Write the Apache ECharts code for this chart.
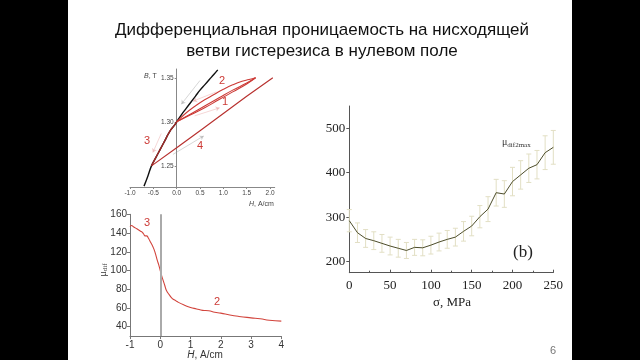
<!DOCTYPE html>
<html>
<head>
<meta charset="utf-8">
<script src="https://cdn.jsdelivr.net/npm/echarts@6/dist/echarts.min.js"></script>
<style>
html,body{margin:0;padding:0;background:#000;}
#c{width:640px;height:360px;}
</style>
</head>
<body>
<div id="c"></div>
<script>
// ---------- Chart (a): B(H) hysteresis branches ----------
const bhTickB = [1.25, 1.30, 1.35];
const bhTickH = [-1.0, -0.5, 0.0, 0.5, 1.0, 1.5, 2.0];
const blackH = [-0.70, -0.62, -0.54, -0.45, -0.35, -0.25, -0.15, -0.05, 0.0, 0.1, 0.2, 0.3, 0.4, 0.5, 0.6, 0.7, 0.8, 0.88];
const blackB = [1.227, 1.238, 1.250, 1.259, 1.269, 1.279, 1.289, 1.296, 1.300, 1.308, 1.315, 1.322, 1.329, 1.336, 1.342, 1.348, 1.354, 1.359];
const branch3H = [0.0, -0.05, -0.15, -0.25, -0.35, -0.45, -0.54];
const branch3B = [1.300, 1.296, 1.289, 1.279, 1.269, 1.259, 1.250];
const loopUpperH = [0.0, 0.2, 0.4, 0.6, 0.8, 1.0, 1.2, 1.4, 1.55, 1.69];
const loopUpperB = [1.300, 1.310, 1.318, 1.325, 1.331, 1.337, 1.342, 1.346, 1.348, 1.350];
const loopMidH = [0.0, 0.3, 0.6, 0.9, 1.2, 1.5, 1.69];
const loopMidB = [1.300, 1.309, 1.318, 1.327, 1.336, 1.344, 1.350];
const loopLowH = [0.0, 0.3, 0.6, 0.9, 1.2, 1.5, 1.69];
const loopLowB = [1.300, 1.308, 1.316, 1.325, 1.334, 1.343, 1.350];
const branch4H = [-0.54, 0.0, 0.5, 1.0, 1.5, 2.06];
const branch4B = [1.250, 1.2705, 1.290, 1.3095, 1.329, 1.350];
// arrows: [H1, B1, H2, B2]
const arrowsGray = [[0.50, 1.347, 0.10, 1.320], [-0.08, 1.263, 0.58, 1.284]];
const arrowsPink = [[0.85, 1.334, 0.35, 1.3235], [0.385, 1.3068, 0.92, 1.3159], [-0.33, 1.2868, -0.51, 1.2652]];
const bhHMin = -1.0, bhHMax = 2.1;

// ---------- Chart (c): differential permeability vs H ----------
const muTickVals = [40, 60, 80, 100, 120, 140, 160];
const muH = [-1.0, -0.95, -0.9, -0.85, -0.8, -0.75, -0.7, -0.65, -0.6, -0.55, -0.5, -0.45, -0.4, -0.35, -0.3, -0.25, -0.2, -0.15, -0.1, -0.05, 0.0, 0.05, 0.1, 0.15, 0.2, 0.3, 0.4, 0.5, 0.6, 0.8, 1.0, 1.2, 1.4, 1.6, 1.8, 2.0, 2.3, 2.6, 3.0, 3.3, 3.6, 4.0];
const muVals = [147, 148, 147, 146, 145, 144, 143, 142, 141, 139, 137, 137, 135, 132, 129, 126, 122, 117, 111, 106, 100, 94, 89, 84, 79, 74, 70, 68, 66, 63, 60.5, 59, 57.5, 57, 55.5, 54.5, 52.5, 51, 49.5, 48.5, 47, 46];

// ---------- Chart (b): mu_dif2max vs sigma ----------
const sigma = [0, 10, 20, 30, 40, 50, 60, 70, 80, 90, 100, 110, 120, 130, 140, 150, 160, 170, 180, 190, 200, 210, 220, 230, 240, 250];
const muMax = [292, 265, 252, 247, 241, 235, 230, 225, 232, 231, 237, 244, 250, 255, 268, 280, 301, 318, 355, 352, 380, 395, 410, 418, 445, 457];
const muErr = [25, 22, 20, 20, 20, 20, 20, 18, 18, 18, 20, 20, 20, 20, 22, 22, 25, 28, 30, 30, 32, 32, 32, 32, 38, 38];
const sigTickVals = [200, 300, 400, 500];

const pair = (a, b) => a.map((v, i) => [v, b[i]]);
const RED = '#cc3a36';
const serif = '"Liberation Serif", "DejaVu Serif", serif';
const sans = '"Liberation Sans", Arial, sans-serif';

const chart = echarts.init(document.getElementById('c'));
const arrowData = (arr) => arr.map(a => ({coords: [[a[0], a[1]], [a[2], a[3]]]}));
const bhGridW = 144.7;
const bhYOffset = -(0 - bhHMin) / (bhHMax - bhHMin) * bhGridW;

const option = {
  backgroundColor: '#fff',
  animation: false,
  title: {
    text: 'Дифференциальная проницаемость на нисходящей\nветви гистерезиса в нулевом поле',
    left: 317, top: 15, textAlign: 'center',
    textStyle: {fontFamily: sans, fontSize: 17, fontWeight: 'normal', color: '#111', lineHeight: 21}
  },
  grid: [
    {left: 130, top: 69, width: bhGridW, height: 118},
    {left: 130, top: 214.3, width: 151.3, height: 121.8},
    {left: 349.3, top: 106, width: 204, height: 166.7}
  ],
  xAxis: [
    {gridIndex: 0, type: 'value', min: bhHMin, max: bhHMax, splitLine: {show: false},
     axisLine: {lineStyle: {color: '#888'}}, axisTick: {customValues: bhTickH, length: 2, lineStyle: {color: '#888'}},
     axisLabel: {customValues: bhTickH, formatter: v => v.toFixed(1), fontSize: 6.5, color: '#444', margin: 3, fontFamily: sans}},
    {gridIndex: 1, type: 'value', min: -1, max: 4, interval: 1, splitLine: {show: false},
     axisLine: {onZero: false, lineStyle: {color: '#777'}}, axisTick: {length: 3, lineStyle: {color: '#777'}},
     axisLabel: {fontSize: 10, color: '#333', margin: 4, fontFamily: sans}},
    {gridIndex: 2, type: 'value', min: 0, max: 250, interval: 50, splitLine: {show: false},
     axisLine: {onZero: false, lineStyle: {color: '#555'}}, axisTick: {inside: true, length: 3, lineStyle: {color: '#555'}},
     minorTick: {show: true, splitNumber: 2, length: 2, lineStyle: {color: '#555'}},
     axisLabel: {fontSize: 13, color: '#222', margin: 6, fontFamily: serif}}
  ],
  yAxis: [
    {gridIndex: 0, type: 'value', min: 1.226, max: 1.36, splitLine: {show: false}, offset: bhYOffset,
     axisLine: {onZero: false, lineStyle: {color: '#888'}}, axisTick: {customValues: bhTickB, length: 2, lineStyle: {color: '#888'}},
     axisLabel: {customValues: bhTickB, formatter: v => v.toFixed(2), fontSize: 6.5, color: '#444', margin: 3, fontFamily: sans}},
    {gridIndex: 1, type: 'value', min: 30, max: 160, splitLine: {show: false},
     axisLine: {onZero: false, lineStyle: {color: '#777'}}, axisTick: {customValues: muTickVals, length: 3, lineStyle: {color: '#777'}},
     axisLabel: {customValues: muTickVals, fontSize: 10, color: '#333', margin: 3, fontFamily: sans}},
    {gridIndex: 2, type: 'value', min: 175, max: 550, splitLine: {show: false},
     axisLine: {onZero: false, lineStyle: {color: '#555'}}, axisTick: {customValues: sigTickVals, length: 3, lineStyle: {color: '#555'}},
     axisLabel: {customValues: sigTickVals, fontSize: 13, color: '#222', margin: 4, fontFamily: serif}}
  ],
  series: [
    {type: 'line', xAxisIndex: 0, yAxisIndex: 0, data: pair(blackH, blackB), smooth: true, showSymbol: false, lineStyle: {color: '#111', width: 1.4}, z: 3},
    {type: 'line', xAxisIndex: 0, yAxisIndex: 0, data: pair(branch3H, branch3B), smooth: true, showSymbol: false, lineStyle: {color: '#a02a28', width: 1.4}, z: 4},
    {type: 'line', xAxisIndex: 0, yAxisIndex: 0, data: pair(loopUpperH, loopUpperB), smooth: true, showSymbol: false, lineStyle: {color: RED, width: 1.1}, z: 3},
    {type: 'line', xAxisIndex: 0, yAxisIndex: 0, data: pair(loopMidH, loopMidB), smooth: true, showSymbol: false, lineStyle: {color: RED, width: 1.1}, z: 3},
    {type: 'line', xAxisIndex: 0, yAxisIndex: 0, data: pair(loopLowH, loopLowB), smooth: true, showSymbol: false, lineStyle: {color: RED, width: 1.1}, z: 3},
    {type: 'line', xAxisIndex: 0, yAxisIndex: 0, data: pair(branch4H, branch4B), smooth: false, showSymbol: false, lineStyle: {color: '#b83230', width: 1.2}, z: 3},
    {type: 'lines', coordinateSystem: 'cartesian2d', xAxisIndex: 0, yAxisIndex: 0, data: arrowData(arrowsGray),
     symbol: ['none', 'arrow'], symbolSize: 4, lineStyle: {color: '#999', width: 0.8}, z: 2},
    {type: 'lines', coordinateSystem: 'cartesian2d', xAxisIndex: 0, yAxisIndex: 0, data: arrowData(arrowsPink),
     symbol: ['none', 'arrow'], symbolSize: 4, lineStyle: {color: '#e59a9a', width: 0.8}, z: 2},
    {type: 'line', xAxisIndex: 1, yAxisIndex: 1, data: pair(muH, muVals), smooth: true, showSymbol: false, lineStyle: {color: '#d2443c', width: 1.1}, z: 3,
     markLine: {silent: true, symbol: 'none', label: {show: false}, lineStyle: {color: '#aaa', width: 2, type: 'solid'}, data: [{xAxis: 0}]}},
    {type: 'custom', xAxisIndex: 2, yAxisIndex: 2, data: sigma.map((s, i) => [s, muMax[i], muErr[i]]), z: 1,
     encode: {x: 0, y: 1},
     renderItem: function (params, api) {
       const x = api.value(0), y = api.value(1), e = api.value(2);
       const t = api.coord([x, y + e]), b = api.coord([x, y - e]);
       const w = 2.5, st = {stroke: '#e2dfc4', lineWidth: 1};
       return {type: 'group', children: [
         {type: 'line', shape: {x1: t[0], y1: t[1], x2: b[0], y2: b[1]}, style: st},
         {type: 'line', shape: {x1: t[0] - w, y1: t[1], x2: t[0] + w, y2: t[1]}, style: st},
         {type: 'line', shape: {x1: b[0] - w, y1: b[1], x2: b[0] + w, y2: b[1]}, style: st}
       ]};
     }},
    {type: 'line', xAxisIndex: 2, yAxisIndex: 2, data: pair(sigma, muMax), showSymbol: false, lineStyle: {color: '#4d4d2a', width: 1}, z: 3}
  ],
  graphic: [
    {type: 'rect', shape: {x: 0, y: 0, width: 68, height: 360}, style: {fill: '#000'}, z: 100},
    {type: 'rect', shape: {x: 572, y: 0, width: 68, height: 360}, style: {fill: '#000'}, z: 100},
    {type: 'text', x: 144, y: 73, style: {text: '{i|B}, T', rich: {i: {fontStyle: 'italic', fontSize: 7, fill: '#444', fontFamily: sans}}, fontSize: 7, fill: '#444', fontFamily: sans}},
    {type: 'text', x: 249, y: 201, style: {text: '{i|H}, A/cm', rich: {i: {fontStyle: 'italic', fontSize: 7, fill: '#444', fontFamily: sans}}, fontSize: 7, fill: '#444', fontFamily: sans}},
    {type: 'text', x: 219, y: 75, style: {text: '2', fontSize: 11, fill: RED, fontFamily: sans}},
    {type: 'text', x: 222, y: 96, style: {text: '1', fontSize: 11, fill: RED, fontFamily: sans}},
    {type: 'text', x: 144, y: 135, style: {text: '3', fontSize: 11, fill: RED, fontFamily: sans}},
    {type: 'text', x: 197, y: 140, style: {text: '4', fontSize: 11, fill: RED, fontFamily: sans}},
    {type: 'text', x: 144, y: 217, style: {text: '3', fontSize: 11, fill: RED, fontFamily: sans}},
    {type: 'text', x: 214, y: 296, style: {text: '2', fontSize: 11, fill: RED, fontFamily: sans}},
    {type: 'text', x: 205, y: 355, style: {text: '{i|H}, A/cm', align: 'center', verticalAlign: 'middle', rich: {i: {fontStyle: 'italic', fontSize: 10, fill: '#333', fontFamily: sans}}, fontSize: 10, fill: '#333', fontFamily: sans}},
    {type: 'text', x: 103, y: 270, rotation: Math.PI / 2, style: {text: 'μ{s|dif}', align: 'center', verticalAlign: 'middle', fontSize: 10, fill: '#333', fontFamily: serif,
      rich: {s: {fontSize: 7, fill: '#333', fontFamily: serif, verticalAlign: 'bottom', padding: [4, 0, 0, 0]}}}},
    {type: 'text', x: 502, y: 136, style: {text: 'μ{s|dif2max}', fontSize: 10, fill: '#333', fontFamily: serif,
      rich: {s: {fontSize: 7, fill: '#333', fontFamily: serif, padding: [6, 0, 0, 0]}}}},
    {type: 'text', x: 523, y: 253, style: {text: '(b)', align: 'center', verticalAlign: 'middle', fontSize: 17, fill: '#222', fontFamily: serif}},
    {type: 'text', x: 452, y: 303, style: {text: 'σ, MPa', align: 'center', verticalAlign: 'middle', fontSize: 13, fill: '#222', fontFamily: serif}},
    {type: 'text', x: 553, y: 351, style: {text: '6', align: 'center', verticalAlign: 'middle', fontSize: 11, fill: '#777', fontFamily: sans}}
  ]
};
chart.setOption(option);
</script>
</body>
</html>
